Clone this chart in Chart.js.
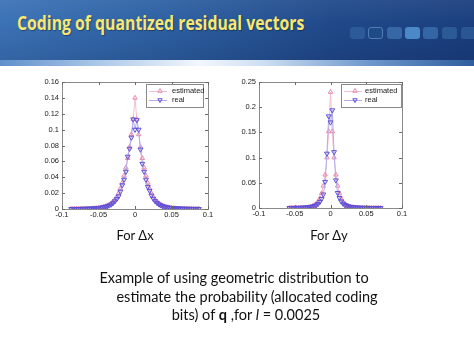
<!DOCTYPE html>
<html><head><meta charset="utf-8">
<script src="https://cdn.jsdelivr.net/npm/chart.js@4.4.1/dist/chart.umd.min.js"></script>
<style>
html,body{margin:0;padding:0;background:#fff;width:474px;height:355px;overflow:hidden;position:relative}
#hdr{position:absolute;left:0;top:0;width:474px;height:60px;
 background:linear-gradient(90deg,#3b72b6 0%,#2d60a2 35%,#20498a 70%,#1a3f7e 100%);}
#hdrShade{position:absolute;left:0;top:0;width:474px;height:60px;
 background:linear-gradient(180deg,rgba(255,255,255,0.06) 0%,rgba(0,0,0,0) 40%,rgba(0,0,30,0.12) 100%);}
#glow{position:absolute;left:0;top:60px;width:474px;height:6px;
 background:linear-gradient(90deg,#5f8fcb 0%,#a9c6e8 20%,#f2f7fd 42%,#cfe0f3 55%,#6d97cc 78%,#2f5d9d 100%);}
#title{position:absolute;left:17px;top:9px;color:#f6e873;font-family:"Open Sans",sans-serif;
 font-weight:bold;font-size:20px;white-space:nowrap;text-shadow:1px 1px 1px rgba(0,0,0,0.35);
 transform:scaleX(0.79);transform-origin:0 0}
.sq{position:absolute;top:27px;width:15px;height:12px;border-radius:3px}
canvas{position:absolute}
.cap{position:absolute;font-family:Lato,"Liberation Sans",sans-serif;font-size:13px;color:#111;transform:translateX(-50%);white-space:nowrap}
.txt{position:absolute;font-family:Lato,"Open Sans",sans-serif;font-size:14.5px;color:#111;transform:translateX(-50%);white-space:nowrap;line-height:18px}
</style></head>
<body>
<div id="hdr"></div><div id="hdrShade"></div><div id="glow"></div>
<div class="sq" style="left:350px;background:#2c5a98"></div>
<div class="sq" style="left:368px;background:#1f4a86;border:1px solid #4f7db5;width:13px;height:10px"></div>
<div class="sq" style="left:387px;background:#3667a7"></div>
<div class="sq" style="left:405px;background:#4b88c8"></div>
<div class="sq" style="left:423px;background:#3465a4"></div>
<div class="sq" style="left:442px;background:#2c5a97"></div>
<div class="sq" style="left:461px;background:#2a5794"></div>
<div id="title">Coding of quantized residual vectors</div>

<canvas id="cx" width="200" height="160" style="left:20px;top:72px"></canvas>
<canvas id="cy" width="200" height="160" style="left:217px;top:72px"></canvas>
<div class="cap" style="left:135px;top:227px">For Δx</div>
<div class="cap" style="left:329px;top:227px">For Δy</div>

<div class="txt" style="left:234px;top:269px">Example of using geometric distribution to</div>
<div class="txt" style="left:247px;top:288px">estimate the probability (allocated coding</div>
<div class="txt" style="left:246px;top:306px">bits) of <b>q</b> ,for <i>l</i> = 0.0025</div>

<script>
// ---- data ----
const seriesNames = ['estimated', 'real'];

const dxPositions = [-0.0875,-0.085,-0.0825,-0.08,-0.0775,-0.075,-0.0725,-0.07,-0.0675,-0.065,-0.0625,-0.06,-0.0575,-0.055,-0.0525,-0.05,-0.0475,-0.045,-0.0425,-0.04,-0.0375,-0.035,-0.0325,-0.03,-0.0275,-0.025,-0.0225,-0.02,-0.0175,-0.015,-0.0125,-0.01,-0.0075,-0.005,-0.0025,0,0.0025,0.005,0.0075,0.01,0.0125,0.015,0.0175,0.02,0.0225,0.025,0.0275,0.03,0.0325,0.035,0.0375,0.04,0.0425,0.045,0.0475,0.05,0.0525,0.055,0.0575,0.06,0.0625,0.065,0.0675,0.07,0.0725,0.075,0.0775,0.08,0.0825,0.085,0.0875];
const dxEstimated = [0.00004,0.00005,0.00006,0.00008,0.0001,0.00012,0.00015,0.0002,0.00025,0.0003,0.0004,0.0005,0.0006,0.0008,0.001,0.0013,0.0016,0.0021,0.0027,0.0034,0.0044,0.0056,0.0072,0.0093,0.012,0.0155,0.020,0.026,0.033,0.042,0.052,0.064,0.078,0.094,0.113,0.14,0.113,0.094,0.078,0.064,0.052,0.042,0.033,0.026,0.020,0.0155,0.012,0.0093,0.0072,0.0056,0.0044,0.0034,0.0027,0.0021,0.0016,0.0013,0.001,0.0008,0.0006,0.0005,0.0004,0.0003,0.00025,0.0002,0.00015,0.00012,0.0001,0.00008,0.00006,0.00005,0.00004];
const dxReal = [0.0001,0.0001,0.0002,0.0001,0.0002,0.0002,0.0003,0.0003,0.0004,0.0005,0.0005,0.0006,0.0008,0.0009,0.0011,0.0013,0.0016,0.0019,0.0024,0.003,0.0037,0.0046,0.0058,0.0075,0.0098,0.0125,0.016,0.022,0.03,0.037,0.047,0.066,0.076,0.09,0.113,0.100,0.112,0.1,0.075,0.057,0.047,0.037,0.028,0.023,0.017,0.013,0.01,0.0078,0.006,0.0047,0.0038,0.003,0.0025,0.002,0.0016,0.0013,0.0011,0.0009,0.0008,0.0007,0.0006,0.0005,0.0004,0.0004,0.0003,0.0003,0.0002,0.0002,0.0001,0.0002,0.0001];

const dyPositions = [-0.0575,-0.055,-0.0525,-0.05,-0.0475,-0.045,-0.0425,-0.04,-0.0375,-0.035,-0.0325,-0.03,-0.0275,-0.025,-0.0225,-0.02,-0.0175,-0.015,-0.0125,-0.01,-0.0075,-0.005,-0.0025,0,0.0025,0.005,0.0075,0.01,0.0125,0.015,0.0175,0.02,0.0225,0.025,0.0275,0.03,0.0325,0.035,0.0375,0.04,0.0425,0.045,0.0475,0.05,0.0525,0.055,0.0575,0.06,0.0625,0.065,0.0675,0.07];
const dyEstimated = [0.00002,0.00003,0.00005,0.00007,0.0001,0.00015,0.0002,0.0003,0.0005,0.0007,0.0011,0.0016,0.0024,0.0036,0.0055,0.0083,0.0126,0.019,0.029,0.044,0.066,0.1,0.152,0.23,0.152,0.1,0.066,0.044,0.029,0.019,0.0126,0.0083,0.0055,0.0036,0.0024,0.0016,0.0011,0.0007,0.0005,0.0003,0.0002,0.00015,0.0001,0.00007,0.00005,0.00003,0.00002,0.00001,0.00001,0.00001,0.00001,0.00001];
const dyReal = [0.0001,0.0002,0.0002,0.0003,0.0003,0.0004,0.0005,0.0006,0.0008,0.001,0.0012,0.0016,0.0022,0.003,0.004,0.0055,0.008,0.012,0.018,0.027,0.052,0.108,0.182,0.17,0.194,0.111,0.055,0.03,0.02,0.013,0.009,0.006,0.0045,0.0033,0.0025,0.0018,0.0014,0.0011,0.0009,0.0007,0.0006,0.0005,0.0004,0.0003,0.0003,0.0002,0.0002,0.0002,0.0001,0.0001,0.0001,0.0001];

const xTickValues = [-0.1,-0.05,0,0.05,0.1];
const xTickLabels = ['-0.1','-0.05','0','0.05','0.1'];
const dxYTickValues = [0,0.02,0.04,0.06,0.08,0.1,0.12,0.14,0.16];
const dxYTickLabels = ['0','0.02','0.04','0.06','0.08','0.1','0.12','0.14','0.16'];
const dyYTickValues = [0,0.05,0.1,0.15,0.2,0.25];
const dyYTickLabels = ['0','0.05','0.1','0.15','0.2','0.25'];

// ---- styles ----
const estColor = '#e98aaa', estLine = '#f3c0cf';
const realColor = '#5b4fd6', realLine = '#b3aaee';
const tickFont = {family:'"Liberation Sans", Arial, sans-serif', size:7.5};

const matlabBox = {
  id:'matlabBox',
  afterDatasetsDraw(chart, args, opts){
    const ctx = chart.ctx, a = chart.chartArea, xs = chart.scales.x, ys = chart.scales.y;
    ctx.save();
    ctx.strokeStyle = '#8a8a8a'; ctx.lineWidth = 1;
    ctx.strokeRect(Math.round(a.left)+0.5, Math.round(a.top)+0.5, Math.round(a.right-a.left), Math.round(a.bottom-a.top));
    ctx.strokeStyle = '#6a6a6a';
    ctx.beginPath();
    xs.ticks.forEach(t=>{
      const p = Math.round(xs.getPixelForValue(t.value))+0.5;
      ctx.moveTo(p,a.bottom); ctx.lineTo(p,a.bottom-3);
      ctx.moveTo(p,a.top); ctx.lineTo(p,a.top+3);
    });
    ys.ticks.forEach(t=>{
      const p = Math.round(ys.getPixelForValue(t.value))+0.5;
      ctx.moveTo(a.left,p); ctx.lineTo(a.left+3,p);
      ctx.moveTo(a.right,p); ctx.lineTo(a.right-3,p);
    });
    ctx.stroke();
    // legend
    const w = opts.w, h = 23, right = a.right - opts.offR, left = right - w, top = a.top + 2;
    ctx.fillStyle = '#fff'; ctx.fillRect(left, top, w, h);
    ctx.strokeStyle = '#8a8a8a'; ctx.strokeRect(Math.round(left)+0.5, Math.round(top)+0.5, w, h);
    ctx.font = '7.5px "Liberation Sans", Arial, sans-serif';
    ctx.textBaseline = 'middle';
    chart.data.datasets.forEach((ds,i)=>{
      const y = top + 7 + i*9;
      ctx.strokeStyle = ds.borderColor; ctx.lineWidth = 1;
      ctx.beginPath(); ctx.moveTo(left+3, y+0.5); ctx.lineTo(left+opts.lineEnd, y+0.5); ctx.stroke();
      ctx.strokeStyle = ds.pointBorderColor;
      ctx.fillStyle = 'rgba(0,0,0,0)';
      Chart.helpers.drawPoint(ctx, {pointStyle:'triangle', rotation: ds.pointRotation, radius:2.5, borderWidth:1}, left+opts.markX, y);
      ctx.fillStyle = '#222';
      ctx.fillText(ds.label, left+opts.textX, y);
    });
    ctx.restore();
  }
};

function makeChart(id, xs, est, real, yVals, yLabels, yMax, legendOpts, padRight, padBottom){
  const toPts = arr => arr.map((v,i)=>({x:xs[i], y:v}));
  return new Chart(document.getElementById(id), {
    type:'scatter',
    data:{datasets:[
      {label:seriesNames[0], data:toPts(est), showLine:true, borderColor:estLine, borderWidth:1,
       pointStyle:'triangle', pointRadius:2.6, pointBorderColor:estColor, pointBackgroundColor:'rgba(0,0,0,0)', pointBorderWidth:1, pointRotation:0, order:2},
      {label:seriesNames[1], data:toPts(real), showLine:true, borderColor:realLine, borderWidth:1,
       pointStyle:'triangle', pointRadius:2.8, pointBorderColor:realColor, pointBackgroundColor:'rgba(0,0,0,0)', pointBorderWidth:1, pointRotation:180, order:1}
    ]},
    options:{
      responsive:false, animation:false, devicePixelRatio:1,
      layout:{padding:{left:0, right:padRight, top:10, bottom:padBottom}},
      plugins:{legend:{display:false}, tooltip:{enabled:false}, matlabBox:legendOpts},
      scales:{
        x:{type:'linear', min:-0.1, max:0.1,
           afterBuildTicks:s=>{s.ticks = xTickValues.map(v=>({value:v}));},
           afterFit:s=>{s.height = 14;},
           grid:{display:false, drawTicks:false}, border:{display:false},
           ticks:{font:tickFont, color:'#222', padding:1, maxRotation:0, autoSkip:false,
                  callback:(v)=>{const i = xTickValues.findIndex(t=>Math.abs(t-v)<1e-9); return i>=0?xTickLabels[i]:'';}}},
        y:{type:'linear', min:0, max:yMax,
           afterBuildTicks:s=>{s.ticks = yVals.map(v=>({value:v}));},
           afterFit:s=>{s.width = 42;},
           grid:{display:false, drawTicks:false}, border:{display:false},
           ticks:{font:tickFont, color:'#222', padding:3, autoSkip:false,
                  callback:(v)=>{const i = yVals.findIndex(t=>Math.abs(t-v)<1e-9); return i>=0?yLabels[i]:'';}}}
      }
    },
    plugins:[matlabBox]
  });
}

makeChart('cx', dxPositions, dxEstimated, dxReal, dxYTickValues, dxYTickLabels, 0.16, {w:57, offR:5, lineEnd:21, markX:14, textX:26}, 12, 9);
makeChart('cy', dyPositions, dyEstimated, dyReal, dyYTickValues, dyYTickLabels, 0.25, {w:60, offR:1, lineEnd:21, markX:14, textX:24}, 15, 10);
</script>
</body></html>
